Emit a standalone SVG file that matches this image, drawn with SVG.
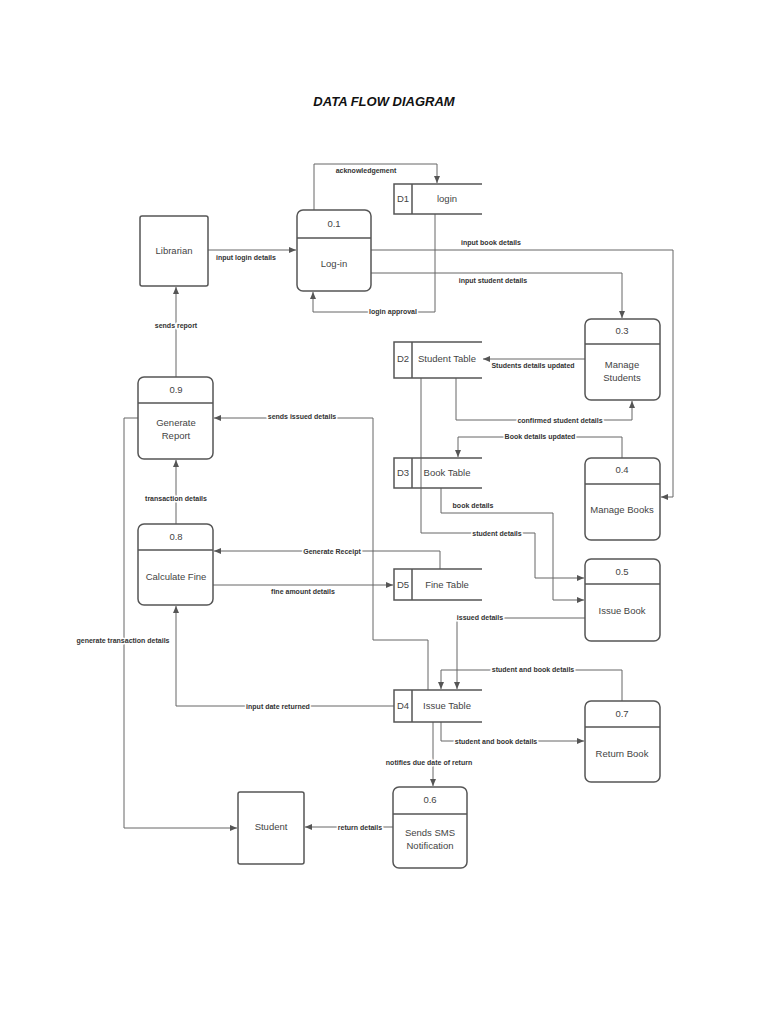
<svg xmlns="http://www.w3.org/2000/svg" width="768" height="1024" viewBox="0 0 768 1024">
<style>
.n{fill:#fff;stroke:#555;stroke-width:1.5}
.d{fill:none;stroke:#555;stroke-width:1.5}
.t{font-family:"Liberation Sans",Arial,sans-serif;font-size:9.5px;fill:#444;text-anchor:middle}
.c path{fill:none;stroke:#666;stroke-width:1}
.l{font-family:"Liberation Sans",Arial,sans-serif;font-size:7px;font-weight:bold;fill:#333;text-anchor:middle;stroke:#fff;stroke-width:3;paint-order:stroke}
</style>
<defs><marker id="a" markerWidth="8" markerHeight="8" refX="7" refY="4" orient="auto" markerUnits="userSpaceOnUse"><path d="M0,1 L7,4 L0,7z" fill="#555"/></marker></defs>
<rect width="768" height="1024" fill="#fff"/>
<text x="384" y="106" font-family="Liberation Sans,Arial,sans-serif" font-size="13" font-weight="bold" font-style="italic" text-anchor="middle" fill="#111">DATA FLOW DIAGRAM</text>
<g class="c">
<path d="M314,210 V164 H437 V183" marker-end="url(#a)"/>
<path d="M208,250 H296" marker-end="url(#a)"/>
<path d="M371,250 H673 V497 H661" marker-end="url(#a)"/>
<path d="M371,273 H622 V318" marker-end="url(#a)"/>
<path d="M435,214 V312 H313 V292" marker-end="url(#a)"/>
<path d="M176,377 V287" marker-end="url(#a)"/>
<path d="M585,359 H483" marker-end="url(#a)"/>
<path d="M456,378 V420 H632 V401" marker-end="url(#a)"/>
<path d="M622,458 V437 H458 V457" marker-end="url(#a)"/>
<path d="M428,690 V640 H373 V418 H214" marker-end="url(#a)"/>
<path d="M421,378 V533 H535 V578 H584" marker-end="url(#a)"/>
<path d="M441,488 V513 H553 V600 H584" marker-end="url(#a)"/>
<path d="M440,569 V551 H214" marker-end="url(#a)"/>
<path d="M213,585 H393" marker-end="url(#a)"/>
<path d="M176,524 V460" marker-end="url(#a)"/>
<path d="M138,418 H124 V828 H237" marker-end="url(#a)"/>
<path d="M585,618 H457 V689" marker-end="url(#a)"/>
<path d="M622,701 V670 H441 V689" marker-end="url(#a)"/>
<path d="M394,706 H176 V606" marker-end="url(#a)"/>
<path d="M441,722 V741 H584" marker-end="url(#a)"/>
<path d="M433,722 V786" marker-end="url(#a)"/>
<path d="M393,827 H305" marker-end="url(#a)"/>
</g>
<g id="labels">
<text class="l" x="366" y="173">acknowledgement</text>
<text class="l" x="246" y="260">input login details</text>
<text class="l" x="491" y="245">input book details</text>
<text class="l" x="493" y="283">input student details</text>
<text class="l" x="393" y="314">login approval</text>
<text class="l" x="176" y="328">sends report</text>
<text class="l" x="533" y="368">Students details updated</text>
<text class="l" x="560" y="423">confirmed student details</text>
<text class="l" x="540" y="439">Book details updated</text>
<text class="l" x="302" y="419">sends issued details</text>
<text class="l" x="497" y="536">student details</text>
<text class="l" x="473" y="508">book details</text>
<text class="l" x="332" y="554">Generate Receipt</text>
<text class="l" x="303" y="594">fine amount details</text>
<text class="l" x="176" y="501">transaction details</text>
<text class="l" x="123" y="643">generate transaction details</text>
<text class="l" x="480" y="620">issued details</text>
<text class="l" x="533" y="672">student and book details</text>
<text class="l" x="278" y="709">input date returned</text>
<text class="l" x="496" y="744">student and book details</text>
<text class="l" x="429" y="765">notifies due date of return</text>
<text class="l" x="360" y="830">return details</text>
</g>
<g id="librarian"><rect class="n" x="140" y="216" width="68" height="70" rx="2"/><text class="t" x="174" y="254">Librarian</text></g>
<g id="p01"><rect class="n" x="297" y="210" width="74" height="81" rx="6"/><path class="d" d="M297,238 H371"/><text class="t" x="334" y="227">0.1</text><text class="t" x="334" y="267">Log-in</text></g>
<g id="d1"><path class="d" d="M482,184 H394 V214 H482 M412,184 V214"/><text class="t" x="403" y="202">D1</text><text class="t" x="447" y="202">login</text></g>
<g id="p03"><rect class="n" x="585" y="319" width="75" height="81" rx="6"/><path class="d" d="M585,344 H660"/><text class="t" x="622" y="334">0.3</text><text class="t" x="622" y="368">Manage</text><text class="t" x="622" y="381">Students</text></g>
<g id="d2"><path class="d" d="M482,342 H394 V378 H482 M412,342 V378"/><text class="t" x="403" y="362">D2</text><text class="t" x="447" y="362">Student Table</text></g>
<g id="d3"><path class="d" d="M482,458 H394 V488 H482 M412,458 V488"/><text class="t" x="403" y="476">D3</text><text class="t" x="447" y="476">Book Table</text></g>
<g id="p04"><rect class="n" x="585" y="458" width="75" height="82" rx="6"/><path class="d" d="M585,484 H660"/><text class="t" x="622" y="473">0.4</text><text class="t" x="622" y="513">Manage Books</text></g>
<g id="p05"><rect class="n" x="585" y="559" width="75" height="82" rx="6"/><path class="d" d="M585,584 H660"/><text class="t" x="622" y="575">0.5</text><text class="t" x="622" y="614">Issue Book</text></g>
<g id="d5"><path class="d" d="M482,569 H394 V600 H482 M412,569 V600"/><text class="t" x="403" y="588">D5</text><text class="t" x="447" y="588">Fine Table</text></g>
<g id="p09"><rect class="n" x="138" y="377" width="75" height="82" rx="6"/><path class="d" d="M138,403 H213"/><text class="t" x="176" y="393">0.9</text><text class="t" x="176" y="426">Generate</text><text class="t" x="176" y="439">Report</text></g>
<g id="p08"><rect class="n" x="138" y="524" width="75" height="81" rx="6"/><path class="d" d="M138,550 H213"/><text class="t" x="176" y="540">0.8</text><text class="t" x="176" y="580">Calculate  Fine</text></g>
<g id="d4"><path class="d" d="M482,690 H394 V722 H482 M412,690 V722"/><text class="t" x="403" y="709">D4</text><text class="t" x="447" y="709">Issue Table</text></g>
<g id="p07"><rect class="n" x="585" y="701" width="75" height="81" rx="6"/><path class="d" d="M585,727 H660"/><text class="t" x="622" y="717">0.7</text><text class="t" x="622" y="757">Return Book</text></g>
<g id="p06"><rect class="n" x="393" y="787" width="74" height="81" rx="6"/><path class="d" d="M393,814 H467"/><text class="t" x="430" y="803">0.6</text><text class="t" x="430" y="836">Sends SMS</text><text class="t" x="430" y="849">Notification</text></g>
<g id="student"><rect class="n" x="238" y="792" width="66" height="72" rx="2"/><text class="t" x="271" y="830">Student</text></g>
</svg>
